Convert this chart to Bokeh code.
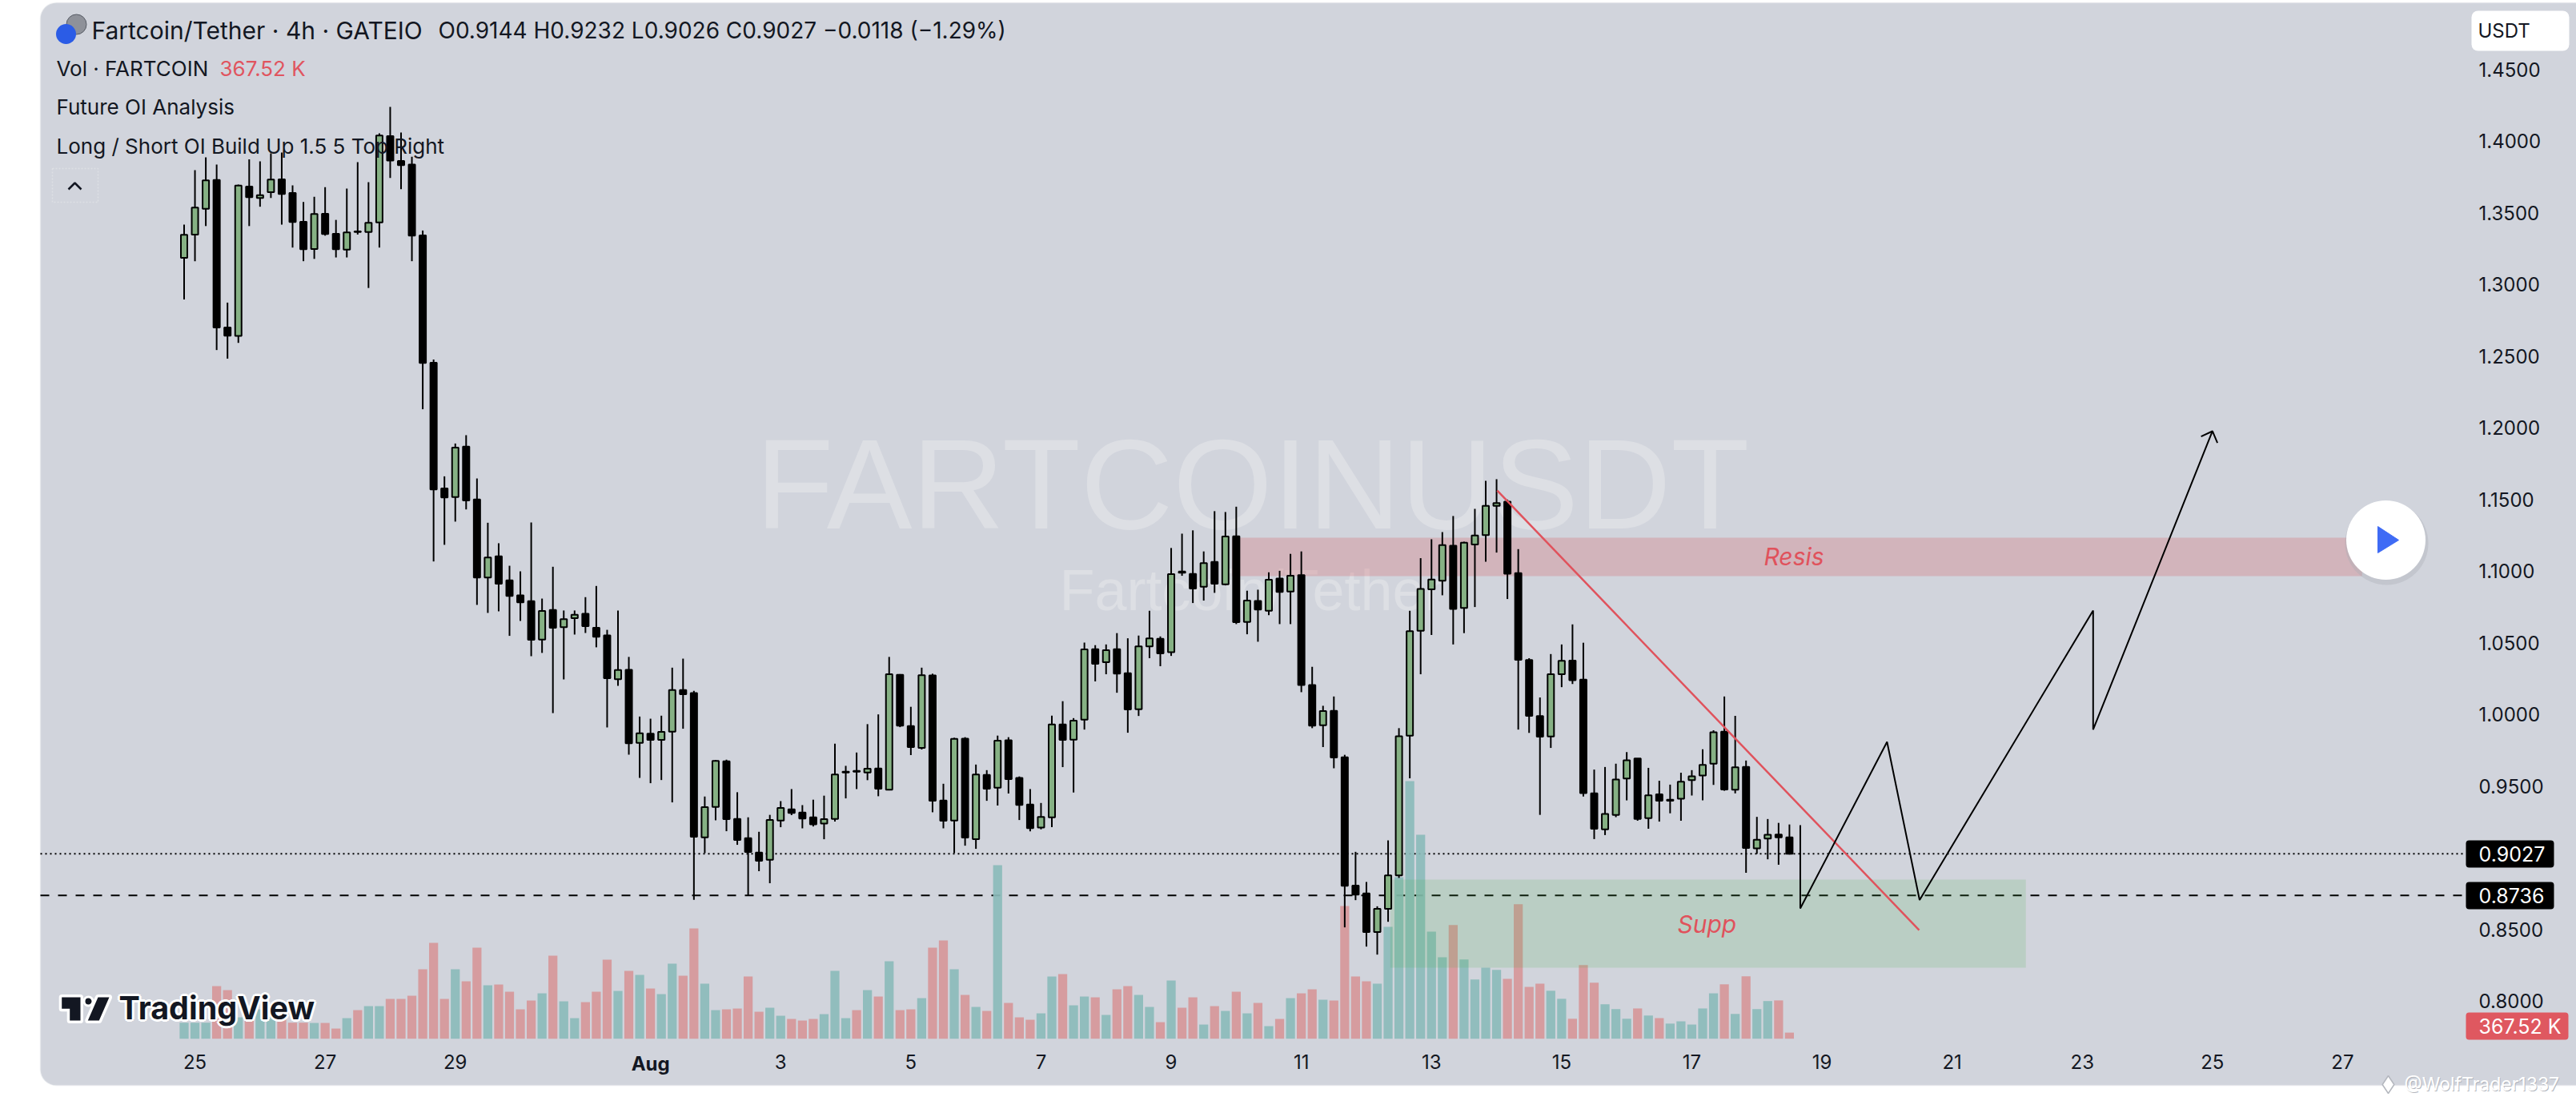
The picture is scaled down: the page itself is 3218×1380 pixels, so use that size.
from bokeh.plotting import figure
from bokeh.models import (Range1d, LinearAxis, FixedTicker, NumeralTickFormatter,
                          BoxAnnotation, Label)
from bokeh.embed import file_html
from bokeh.resources import INLINE

opens = [1.3185,1.3347,1.3527,1.3727,1.2699,1.2639,1.3682,1.3602,1.3643,1.3732,
1.3637,1.3436,1.3246,1.3492,1.3352,1.3241,1.3369,1.3364,1.3431,1.4034,
1.3861,1.3835,1.3341,1.2453,1.1576,1.1515,1.1867,1.1498,1.0954,1.1102,
1.0934,1.0830,1.0789,1.0521,1.0727,1.0608,1.0670,1.0701,1.0604,1.0550,
1.0245,1.0310,.9800,.9864,.9821,.9878,1.0169,1.0148,.9141,.9353,
.9672,.9270,.9135,.9035,.8985,.9258,.9337,.9314,.9281,.9238,
.9270,.9593,.9605,.9593,.9622,.9474,1.0275,.9918,.9765,1.0271,
.9398,.9258,.9830,.9129,.9577,.9487,.9819,.9556,.9370,.9210,
.9281,.9929,.9823,.9962,1.0454,1.0363,1.0454,1.0286,1.0035,1.0474,
1.0527,1.0433,1.0996,1.0979,1.0890,1.1063,1.0906,1.1242,1.0644,1.0791,
1.0722,1.0947,1.0856,1.0970,1.0204,.9923,1.0024,.9700,.8805,.8750,
.8481,.8643,.8876,.9851,1.0582,1.0871,1.0932,1.1176,1.0742,1.1185,
1.1250,1.1454,1.1483,1.0984,1.0378,.9987,.9845,1.0279,1.0375,1.0241,
.9448,.9197,.9298,.9552,.9691,.9275,.9442,.9397,.9410,.9540,
.9572,.9655,.9879,.9473,.9632,.9064,.9132,.9161,.9141]
closes = [1.3345,1.3535,1.3725,1.2699,1.2641,1.3688,1.3608,1.3621,1.3730,1.3630,
1.3434,1.3244,1.3490,1.3351,1.3244,1.3362,1.3364,1.3429,1.4038,1.3863,
1.3831,1.3339,1.2451,1.1569,1.1513,1.1860,1.1491,1.0954,1.1094,1.0910,
1.0826,1.0781,1.0519,1.0720,1.0603,1.0664,1.0694,1.0614,1.0541,1.0251,
1.0308,.9798,.9867,.9821,.9877,1.0169,1.0139,.9145,.9352,.9674,
.9268,.9123,.9039,.8977,.9262,.9346,.9312,.9273,.9232,.9268,
.9580,.9599,.9599,.9620,.9480,1.0279,.9921,.9771,1.0273,.9396,
.9257,.9828,.9139,.9580,.9480,.9815,.9547,.9368,.9206,.9284,
.9929,.9821,.9955,1.0452,1.0352,1.0447,1.0284,1.0033,1.0474,1.0530,
1.0424,1.0977,1.0988,1.0877,1.1055,1.0910,1.1240,1.0642,1.0793,1.0731,
1.0938,1.0854,1.0966,1.0204,.9921,1.0022,.9698,.8803,.8742,.8480,
.8642,.8876,.9847,1.0580,1.0875,1.0940,1.1180,1.0735,1.1197,1.1247,
1.1454,1.1474,1.0981,1.0380,.9989,.9843,1.0279,1.0373,1.0238,.9450,
.9201,.9305,.9545,.9679,.9269,.9435,.9397,.9403,.9529,.9567,
.9646,.9875,.9475,.9630,.9067,.9125,.9159,.9141,.9027]
highs = [1.3416,1.3796,1.3885,1.3835,1.2872,1.3695,1.3872,1.3857,1.3913,1.3919,
1.3690,1.3574,1.3611,1.3678,1.3449,1.3667,1.3852,1.3712,1.4053,1.4237,
1.4058,1.3889,1.3375,1.2475,1.1660,1.1889,1.1947,1.1645,1.1336,1.1193,
1.1036,1.0997,1.1338,1.0807,1.1029,1.0724,1.0724,1.0817,1.0895,1.0589,
1.0724,1.0400,.9984,.9969,.9990,1.0325,1.0388,1.0163,.9426,.9680,
.9683,.9456,.9281,.9180,.9298,.9394,.9478,.9366,.9404,.9432,
.9795,.9640,.9733,.9931,.9999,1.0400,1.0280,1.0052,1.0325,1.0283,
.9515,.9836,.9840,.9649,.9610,.9851,.9840,.9566,.9478,.9381,
.9990,1.0091,.9973,1.0500,1.0482,1.0487,1.0566,1.0530,1.0549,1.0722,
1.0543,1.1160,1.1260,1.1283,1.1136,1.1417,1.1411,1.1448,1.0862,1.0869,
1.0990,1.1001,1.1119,1.1136,1.0331,1.0059,1.0124,.9717,.9040,.8830,
.8660,.9120,.9903,1.0722,1.1089,1.1221,1.1271,1.1383,1.1204,1.1433,
1.1628,1.1640,1.1498,1.1152,1.0391,1.0117,1.0420,1.0487,1.0627,1.0499,
.9614,.9632,.9655,.9736,.9691,.9626,.9536,.9509,.9592,.9610,
.9756,.9888,1.0124,.9989,.9677,.9284,.9269,.9242,.9231]
lows = [1.2894,1.3161,1.3406,1.2541,1.2481,1.2591,1.3406,1.3541,1.3602,1.3416,
1.3256,1.3161,1.3177,1.3339,1.3187,1.3187,1.3347,1.2974,1.3256,1.3742,
1.3663,1.3161,1.2128,1.1066,1.1182,1.1344,1.1429,1.0763,1.0707,1.0718,
1.0547,1.0651,1.0405,1.0428,1.0008,1.0243,1.0556,1.0567,1.0467,.9908,
1.0198,.9718,.9556,.9519,.9541,.9385,.9899,.8705,.9031,.9260,
.9184,.9089,.8735,.8905,.8821,.9212,.9296,.9204,.9217,.9128,
.9251,.9413,.9478,.9540,.9428,.9469,.9910,.9715,.9754,.9316,
.9204,.9031,.9083,.9061,.9396,.9363,.9447,.9262,.9183,.9197,
.9212,.9631,.9454,.9893,1.0229,1.0279,1.0150,.9871,.9988,1.0391,
1.0335,1.0407,1.0966,1.0776,1.0793,1.0847,1.0899,1.0629,1.0558,1.0506,
1.0692,1.0629,1.0629,1.0154,.9903,.9771,.9623,.8513,.8703,.8379,
.8323,.8552,.8858,.9553,1.0279,1.0553,1.0830,1.0487,1.0566,1.0748,
1.1064,1.1128,1.0804,.9893,.9870,.9298,.9765,1.0189,1.0211,.9426,
.9129,.9157,.9282,.9399,.9257,.9201,.9251,.9309,.9257,.9433,
.9399,.9507,.9466,.9448,.8894,.9026,.8988,.8950,.9026]
volumes_k = [967,967,967,3176,2934,1290,1290,1770,1450,1290,
967,967,951,951,613,1241,1725,1967,1967,2402,
2402,2595,4191,5787,2402,4191,3466,5497,3224,3272,
2837,1773,2305,2740,5013,2257,1241,2208,2837,4772,
2885,4094,3853,3031,2692,4530,3804,6658,3321,1725,
1773,1822,3756,1628,1870,1386,1193,1096,1193,1483,
4094,1241,1725,2934,2547,4675,1725,1773,2450,5497,
5932,4191,2644,1918,1676,10478,2160,1290,1145,1531,
3756,3901,2015,2547,2499,1435,2982,3176,2644,1918,
999,3514,1870,2499,854,1967,1676,2837,1531,2160,
758,1193,2450,2740,2982,2354,2305,8012,3756,3466,
3321,6754,9753,15556,12316,6464,4917,6859,4780,3575,
4294,4158,3614,8122,3128,3323,2895,2409,1205,4449,
3381,2079,1788,1205,1826,1399,1244,913,1049,855,
1826,2740,3284,1496,3769,1788,2273,2312,367.52]

date_ticks = [1,13,25,43,55,67,79,91,103,115,127,139,151,163,175,187,199]
date_labels = ["25","27","29","","3","5","7","9","11","13","15","17","19","21","23","25","27"]
aug_tick = 43
price_ticks = [0.80,0.85,0.90,0.95,1.00,1.05,1.10,1.15,1.20,1.25,1.30,1.35,1.40,1.45]

last_close = 0.9027
line_level = 0.8736
trend_x = [121.06, 159.96]
trend_y = [1.1561, 0.8494]
path_x = [149, 149, 157, 160, 176, 176, 187]
path_y = [0.9226, 0.8645, 0.9807, 0.8704, 1.0724, 0.9893, 1.1975]
arrow_x = [185.95, 187, 187.46]
arrow_y = [1.1938, 1.1975, 1.1893]
resis = (96.6, 200.8, 1.0964, 1.1232)
supp = (111.2, 169.8, 0.8232, 0.8846)

BG = "#D1D4DC"
INK = "#131722"
RED = "#E0525C"
FONT = "Inter"


def X(px):
    return (px - 229.5) / 13.55


def Y(py):
    return 1.45 - (py - 86) / 1790


p = figure(width=3218, height=1380, output_backend="svg", toolbar_location=None,
           x_range=Range1d(X(0), X(3218)), y_range=Range1d(Y(1380), Y(0)),
           x_axis_type=None, y_axis_type=None,
           min_border_left=0, min_border_right=0, min_border_top=0, min_border_bottom=0,
           border_fill_color="white", background_fill_color="white", outline_line_color=None)
p.extra_y_ranges["vol"] = Range1d((1296.7 - 1380) * 48.36, 1296.7 * 48.36)
p.grid.visible = False

xaxis = LinearAxis(fixed_location=Y(1310), ticker=FixedTicker(ticks=date_ticks),
                   major_label_overrides=dict(zip(date_ticks, date_labels)),
                   major_label_standoff=6)
yaxis = LinearAxis(fixed_location=X(3080), ticker=FixedTicker(ticks=price_ticks),
                   formatter=NumeralTickFormatter(format="0.0000"), major_label_standoff=16)
p.add_layout(xaxis, "below")
p.add_layout(yaxis, "right")
for ax in (xaxis, yaxis):
    ax.axis_line_color = None
    ax.major_tick_line_color = None
    ax.minor_tick_line_color = None
    ax.major_tick_out = 0
    ax.major_tick_in = 0
    ax.major_label_text_color = INK
    ax.major_label_text_font = FONT
    ax.major_label_text_font_size = "24px"

# panel
p.add_layout(BoxAnnotation(left=X(50), right=X(3240), bottom=Y(1355), top=Y(3),
                           fill_color=BG, fill_alpha=1, line_color="#E2E4E8", line_width=2,
                           border_radius=20, level="underlay"))

# watermark
p.text([X(1564)], [Y(604)], text=["FARTCOINUSDT"], text_font={"value": "Liberation Sans"},
       text_font_size="160px", text_color="#DDDFE4", text_align="center", text_baseline="middle")
p.text([X(1563)], [Y(736)], text=["Fartcoin/Tether"], text_font={"value": "Liberation Sans"},
       text_font_size="72px", text_color="#DDDFE4", text_align="center", text_baseline="middle")

# price lines
p.line([X(50), X(3080)], [last_close] * 2, line_color="black", line_width=2, line_dash="2 4")
p.line([X(50), X(3080)], [line_level] * 2, line_color="black", line_width=2, line_dash="11 11")

# volume
xs = list(range(len(opens)))
up = [c >= o for o, c in zip(opens, closes)]
vol_colors = ["#8BBBBA" if u else "#D69799" for u in up]
p.vbar(xs, top=volumes_k, bottom=0, width=0.83, fill_color=vol_colors, line_color=None,
       fill_alpha=0.92, y_range_name="vol")

# zones
p.quad(left=[resis[0]], right=[resis[1]], bottom=[resis[2]], top=[resis[3]],
       fill_color="#D55052", fill_alpha=0.24, line_color=None)
p.quad(left=[supp[0]], right=[supp[1]], bottom=[supp[2]], top=[supp[3]],
       fill_color="#4CAF50", fill_alpha=0.17, line_color=None)

# candles
p.segment(xs, highs, xs, lows, line_color="black", line_width=2)
p.vbar(xs, top=[max(o, c) for o, c in zip(opens, closes)],
       bottom=[min(o, c) for o, c in zip(opens, closes)], width=0.59,
       fill_color=["#86B184" if u else "black" for u in up], line_color="black", line_width=2)

# drawings
p.line(trend_x, trend_y, line_color=RED, line_width=2.5)
p.line(path_x, path_y, line_color="black", line_width=2)
p.line(arrow_x, arrow_y, line_color="black", line_width=2)


def label(px, py, text, size=24, color=INK, align="left", style="normal", font=FONT):
    p.add_layout(Label(x=X(px), y=Y(py), text=text, text_font=font, text_font_size=f"{size}px",
                       text_color=color, text_align=align, text_baseline="middle",
                       text_font_style=style))


def box(l, r, t, b, color, radius=4, line=None):
    p.add_layout(BoxAnnotation(left=X(l), right=X(r), top=Y(t), bottom=Y(b), fill_color=color,
                               fill_alpha=1, line_color=line, border_radius=radius))


label(2203, 694, "Resis", 30, RED, style="italic")
label(2095, 1153, "Supp", 30, RED, style="italic")
label(229.5 + aug_tick * 13.55, 1328, "Aug", 24, INK, "center", "bold")

# legend
label(114, 37, "Fartcoin/Tether · 4h · GATEIO", 30)
label(547, 37, "O0.9144 H0.9232 L0.9026 C0.9027 −0.0118 (−1.29%)", 28)
label(70, 85, "Vol · FARTCOIN", 26)
label(274, 85, "367.52 K", 26, "#E0555F")
label(70, 133, "Future OI Analysis", 26)
label(70, 182, "Long / Short OI Build Up 1.5 5 Top Right", 26)

# coin icon
p.scatter([X(95)], [Y(30)], size=25, marker="circle", fill_color="#8E9199", line_color="#555A63", line_width=1)
p.scatter([X(82)], [Y(42)], size=25, marker="circle", fill_color="#2B5CE6", line_color=None)

# chevron button
p.quad(left=[X(65)], right=[X(122)], top=[Y(210)], bottom=[Y(252)], fill_color=BG,
       line_color="#DDDFE4", line_width=1.5, line_dash="2 2")
p.line([X(85), X(93), X(101)], [Y(236), Y(228), Y(236)], line_color=INK, line_width=2.5)

# price and volume tags
box(3087, 3209, 13, 63, "white", 8)
label(3095, 38, "USDT", 24)
box(3080, 3190, 1049, 1083, "black")
label(3096, 1066, "0.9027", 25, "white")
box(3080, 3190, 1101, 1135, "black")
label(3096, 1118, "0.8736", 25, "white")
box(3080, 3208, 1264, 1298, "#DF5860")
label(3096, 1281, "367.52 K", 25, "white")

# play button
p.scatter([X(2981)], [Y(678)], size=104, marker="circle", fill_color="#A9ADB5", fill_alpha=0.35, line_color=None)
p.scatter([X(2980)], [Y(674)], size=99, marker="circle", fill_color="white", line_color=None)
p.patch([X(2970), X(2996), X(2970)], [Y(657), Y(674), Y(690)], fill_color="#3F6BF5", line_color="#3F6BF5")

# TradingView logo
icon = [
    ([76.7, 100, 100, 86.7, 86.7, 76.7], [1245, 1245, 1274, 1274, 1259.3, 1259.3]),
    ([122, 136, 123.3, 109.3], [1245, 1245, 1274, 1274]),
]
for ix, iy in icon:
    p.patch([X(a) for a in ix], [Y(b) for b in iy], fill_color="#131722", line_color="white",
            line_width=7, line_join="round")
    p.patch([X(a) for a in ix], [Y(b) for b in iy], fill_color="#131722", line_color=None)
p.scatter([X(110)], [Y(1250)], size=11, marker="circle", fill_color="#131722", line_color="white", line_width=3)
for dx, dy in [(-3, 0), (3, 0), (0, -3), (0, 3), (-2, -2), (2, -2), (-2, 2), (2, 2)]:
    label(148 + dx, 1258 + dy, "TradingView", 39.5, "white", style="bold")
label(148, 1258, "TradingView", 39.5, "#131722", style="bold")

# author watermark
p.scatter([X(2983)], [Y(1354)], size=22, marker="diamond", fill_color="white", line_color="#B4B7BE", line_width=1.5)
label(3004, 1354.5, "@WolfTrader1337", 23, "#B4B7BE")
label(3003, 1353, "@WolfTrader1337", 23, "white")

open("out.html", "w").write(file_html(p, INLINE))
